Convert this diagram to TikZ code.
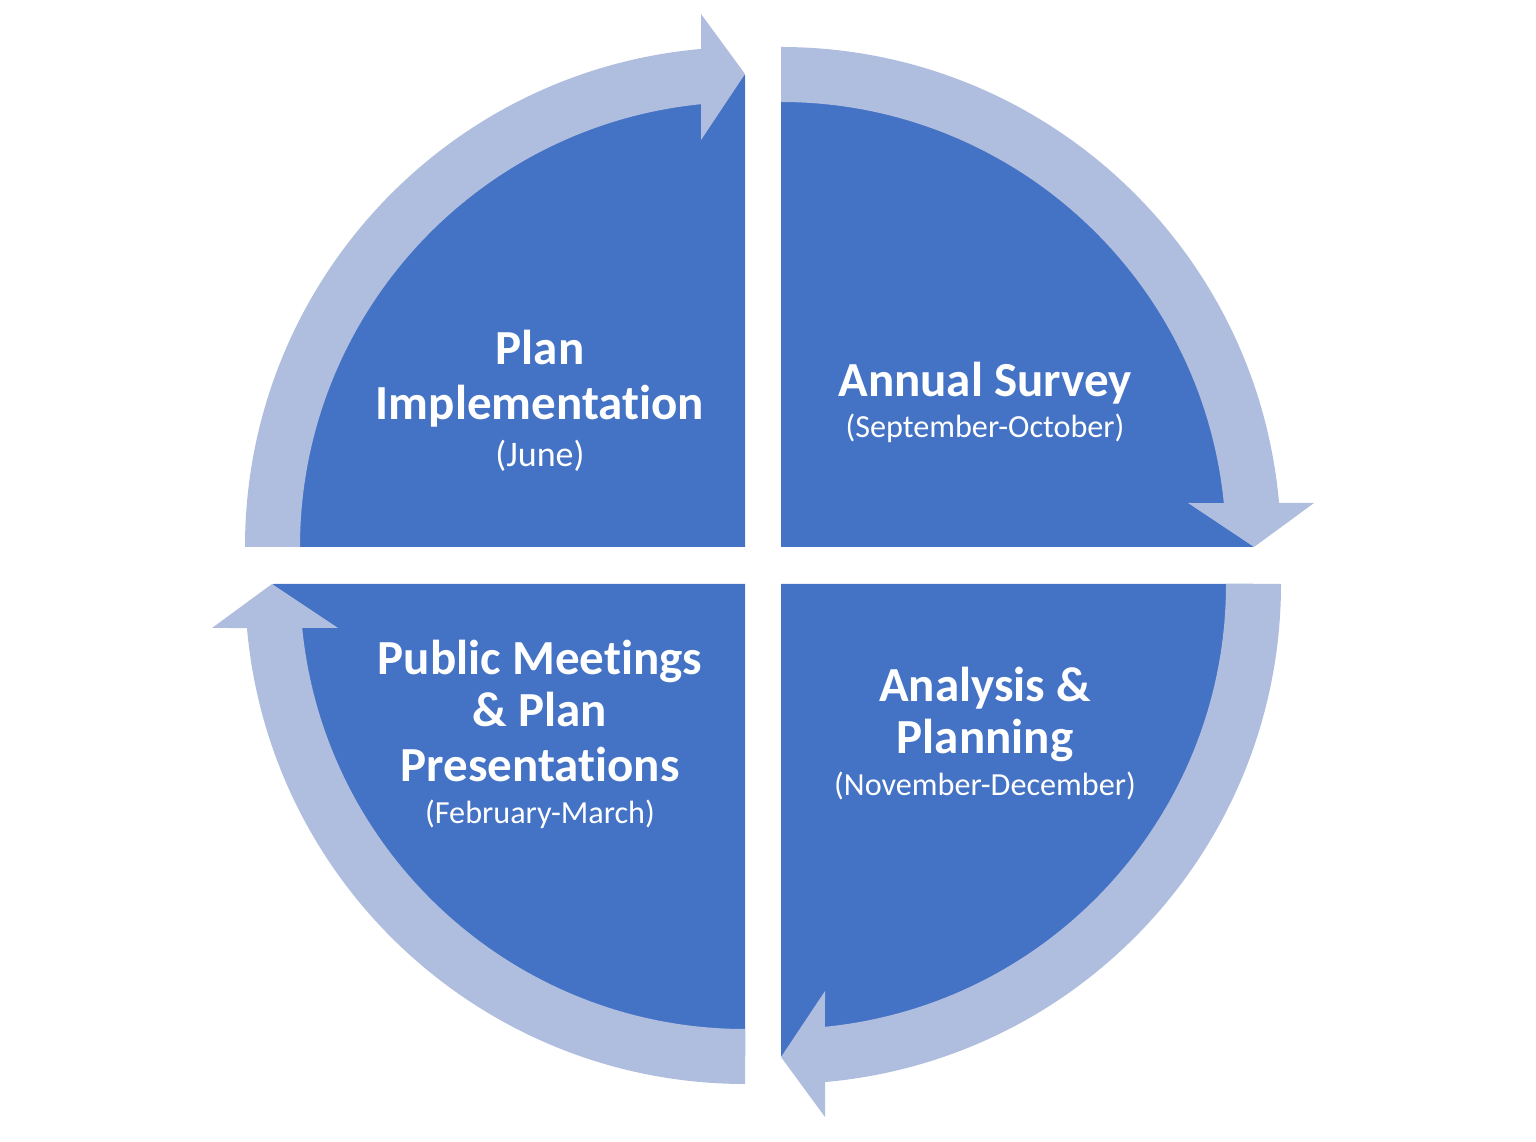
\documentclass[tikz,border=0pt]{standalone}
\usepackage{fontspec}
\setmainfont{Carlito}[Ligatures={NoCommon,NoRequired,NoContextual}]
\definecolor{wedgeblue}{RGB}{68,114,196}
\definecolor{bandblue}{RGB}{175,189,222}
\begin{document}
\begin{tikzpicture}[x=0.5pt,y=0.5pt,
  wedge/.style={fill=wedgeblue,draw=none},
  band/.style={fill=bandblue,draw=none},
  bigtxt/.style={text=white,inner sep=0pt,anchor=base,font=\fontsize{24.5}{29}\selectfont\bfseries},
  smalltxt/.style={text=white,inner sep=0pt,anchor=base,font=\fontsize{16.1}{19}\selectfont}]
\useasboundingbox (0,0) rectangle (1536,1141);
% quadrant wedges
\foreach \cx/\cy/\rot in {745/594/0, 781/594/-90, 781/557/-180, 745/557/-270}{
  \begin{scope}[shift={(\cx,\cy)},rotate=\rot]
    \fill[wedge] (0,0) -- (180:472) arc[start angle=180,end angle=90,radius=472] -- cycle;
  \end{scope}
}
% circular arrows
\foreach \cx/\cy/\rot in {745/594/0, 781/594/-90, 781/557/-180, 745/557/-270}{
  \begin{scope}[shift={(\cx,\cy)},rotate=\rot]
    \fill[band] (180:500) arc[start angle=180,end angle=95.05,radius=500]
      -- (-44,533) -- (0,473) -- (-44,407)
      -- (95.67:445) arc[start angle=95.67,end angle=180,radius=445] -- cycle;
  \end{scope}
}
% texts
\node[bigtxt] (tl1) at (540,776) {Plan};
\node[bigtxt] (tl2) at (540,721) {Implementation};
\node[smalltxt,font=\fontsize{18}{21}\selectfont] (tl3) at (540,674) {(June)};
\node[bigtxt] (tr1) at (985,744) {Annual Survey};
\node[smalltxt] (tr2) at (985,703) {(September-October)};
\node[bigtxt] (br1) at (985,439) {Analysis \&};
\node[bigtxt] (br2) at (985,387) {Planning};
\node[smalltxt] (br3) at (985,345) {(November-December)};
\node[bigtxt] (bl1) at (540,466) {Public Meetings};
\node[bigtxt] (bl2) at (540,414) {\& Plan};
\node[bigtxt] (bl3) at (540,359) {Presentations};
\node[smalltxt] (bl4) at (540,317) {(February-March)};
\end{tikzpicture}
\end{document}
